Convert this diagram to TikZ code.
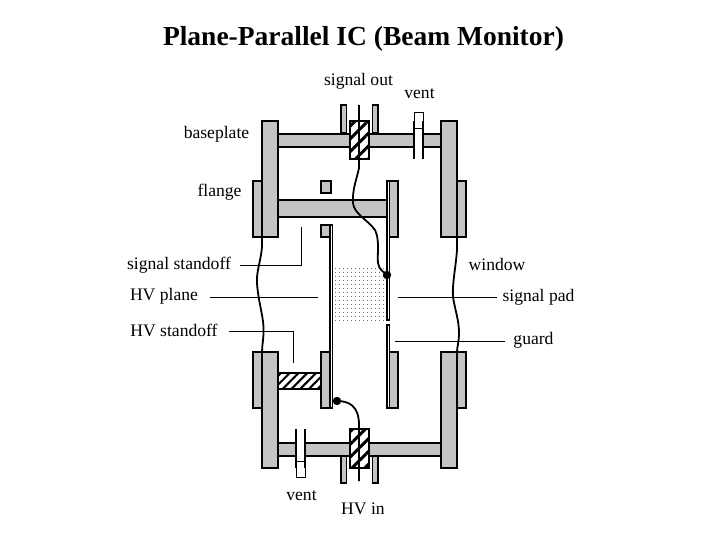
\documentclass[tikz,border=0pt]{standalone}
\usepackage{fontspec}
\setmainfont{Liberation Serif}
\usetikzlibrary{patterns.meta}
\tikzset{
	stip/.style={fill=white, postaction={pattern={Dots[distance=2pt, radius=0.55pt]}}, postaction={draw, line width=1.9pt}},
	hatch/.style={fill=white, postaction={pattern={Lines[angle=45, distance=6.2pt, line width=2.1pt]}}, postaction={draw, line width=1.9pt}},
	hatchpin/.style={fill=white, postaction={pattern={Lines[angle=45, distance=9pt, line width=3pt]}}, postaction={draw, line width=1.9pt}},
	wall/.style={line width=1.2pt},
	wire/.style={line width=1.8pt},
	lead/.style={line width=0.8pt},
	lab/.style={font=\fontsize{17.6}{19}\selectfont, inner sep=0pt}
}
\begin{document}
\begin{tikzpicture}[x=1pt, y=-1pt]
	\useasboundingbox (0,0) rectangle (720,540);
	\node[font=\fontsize{27.5}{30}\selectfont\bfseries, inner sep=0pt] (title) at (363.5,38.5) {Plane-Parallel IC (Beam Monitor)};
	\node[lab] (sigout) at (358.5,81) {signal out};
	\node[lab] (venttop) at (419.5,94) {vent};
	\node[lab] (base) at (216.5,134) {baseplate};
	\node[lab] (flange) at (219.5,192) {flange};
	\node[lab] (sigstand) at (179,265) {signal standoff};
	\node[lab] (hvplane) at (164,296.5) {HV plane};
	\node[lab] (hvstand) at (174,330.5) {HV standoff};
	\node[lab] (window) at (497,264) {window};
	\node[lab] (sigpad) at (538.5,297) {signal pad};
	\node[lab] (guard) at (533.5,340) {guard};
	\node[lab] (ventbot) at (301.5,496) {vent};
	\node[lab] (hvin) at (363,508.5) {HV in};

	% bars
	\path[stip] (278,134) rectangle (441,147);
	\path[stip] (278,443) rectangle (441,456);
	\path[stip] (278,200) rectangle (387,217);
	\path[hatch] (278,373) rectangle (321,389);

	% flanges and columns
	\path[stip] (253,181) rectangle (264,237);
	\path[stip] (262,121) rectangle (278,237);
	\path[stip] (455,181) rectangle (466,237);
	\path[stip] (441,121) rectangle (457,237);
	\path[stip] (253,352) rectangle (264,408);
	\path[stip] (262,352) rectangle (278,468);
	\path[stip] (455,352) rectangle (466,408);
	\path[stip] (441,352) rectangle (457,468);

	% standoff blocks
	\path[stip] (321,181) rectangle (331,193);
	\path[stip] (321,225) rectangle (331,237);
	\path[stip] (321,352) rectangle (331,408);
	\path[stip] (388,181) rectangle (398,237);
	\path[stip] (388,352) rectangle (398,408);

	% plates
	\fill[pattern={Dots[distance=4pt, radius=0.6pt]}] (335,268) rectangle (384,322);
	\draw[wall, fill=white] (330,225) rectangle (332.5,408);
	\draw[wall, fill=white] (387,181) rectangle (389.5,320);
	\draw[wall, fill=white] (387,325) rectangle (389.5,408);

	% studs
	\path[stip] (341,105) rectangle (346.5,133);
	\path[stip] (372.5,105) rectangle (378,133);
	\path[stip] (341,456) rectangle (346.5,483);
	\path[stip] (372.5,456) rectangle (378,483);

	% feedthroughs
	\path[hatchpin] (350,121) rectangle (369,159);
	\path[hatchpin] (350,429) rectangle (369,468);

	% vents
	\fill[white] (414,131) rectangle (423,159);
	\draw[line width=0.9pt, fill=white] (414,112) rectangle (423,128);
	\draw[line width=1.9pt] (414,121) -- (414,159) (423,121) -- (423,159);
	\fill[white] (296,429) rectangle (305,461);
	\draw[line width=0.9pt, fill=white] (296,461) rectangle (305,477);
	\draw[line width=1.9pt] (296,429) -- (296,468) (305,429) -- (305,468);

	% wires and windows
	\coordinate (pintop) at (359,105);
	\coordinate (padjoint) at (387,275);
	\coordinate (pinbot) at (359,481);
	\coordinate (hvjoint) at (337,401);
	\fill (padjoint) circle (4.2);
	\fill (hvjoint) circle (4.2);
	\draw[wire] (pintop) -- (359,168) .. controls (357,178) and (352,190) .. (353,203) .. controls (354,214) and (368,220) .. (375,230) .. controls (380,240) and (377,255) .. (378,263) .. controls (379,270) and (384,272) .. (padjoint);
	\draw[wire] (hvjoint) .. controls (348,401) and (359,405) .. (359,425) -- (pinbot);
	\draw[wire] (262,237) -- (262,247) .. controls (261,260) and (256,273) .. (257,283) .. controls (258,300) and (263,315) .. (263.5,327) .. controls (264,337) and (262,345) .. (262,352);
	\draw[wire] (457,237) -- (457,250) .. controls (456,265) and (452,285) .. (453,297) .. controls (455,310) and (459,320) .. (459,333) .. controls (459,342) and (457,347) .. (457,352);

	% leaders
	\coordinate (a1) at (240,265);
	\coordinate (a2) at (301.5,265);
	\coordinate (a3) at (301.5,227);
	\coordinate (b1) at (210,297);
	\coordinate (b2) at (318,297);
	\coordinate (c1) at (229,331);
	\coordinate (c2) at (293,331);
	\coordinate (c3) at (293,363);
	\coordinate (d1) at (398,297);
	\coordinate (d2) at (497,297);
	\coordinate (e1) at (395,341);
	\coordinate (e2) at (505,341);
	\draw[lead] (a1) -- (a2) -- (a3);
	\draw[lead] (b1) -- (b2);
	\draw[lead] (c1) -- (c2) -- (c3);
	\draw[lead] (d1) -- (d2);
	\draw[lead] (e1) -- (e2);
\end{tikzpicture}
\end{document}
